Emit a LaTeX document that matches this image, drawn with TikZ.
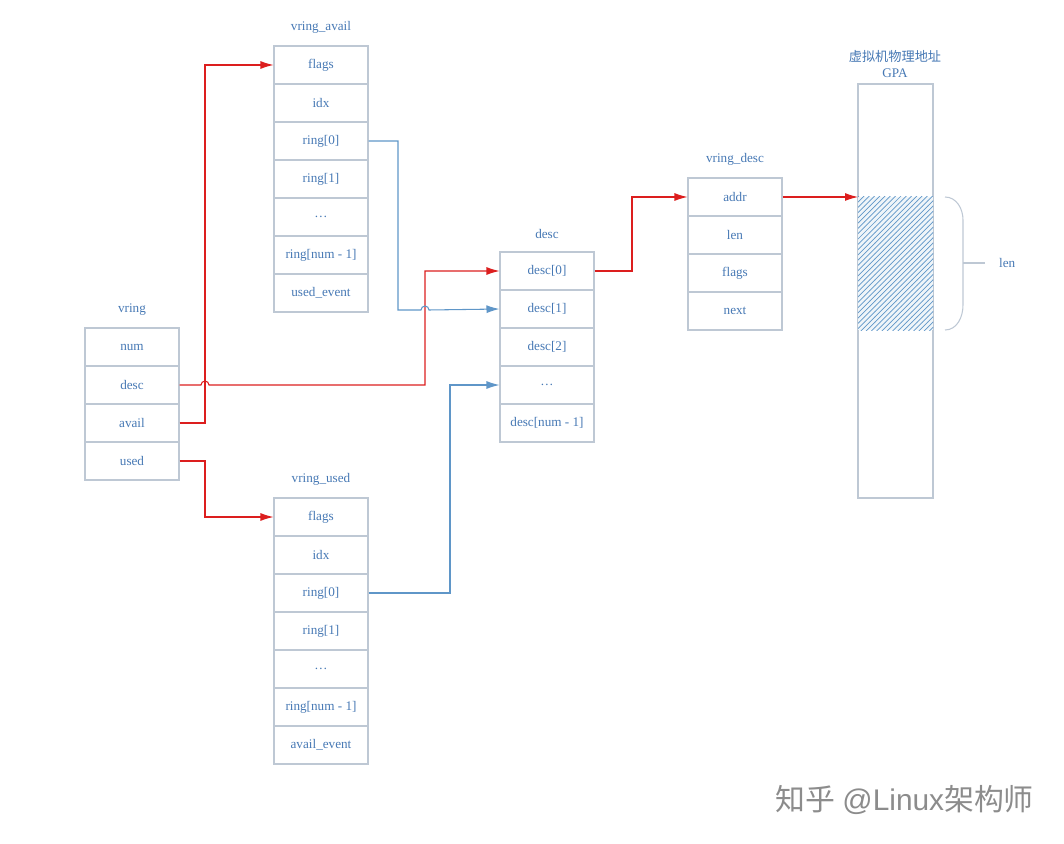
\documentclass[tikz,border=0pt]{standalone}
\usepackage{fontspec}
\setmainfont{Liberation Serif}
\newfontfamily\cjk{Noto Sans CJK SC}
\usetikzlibrary{patterns,calc,arrows.meta}
\definecolor{txtblue}{RGB}{70,120,180}
\definecolor{cellgray}{RGB}{190,200,212}
\definecolor{lnred}{RGB}{220,30,30}
\definecolor{lnblue}{RGB}{95,150,200}
\tikzset{
  cell/.style={draw=cellgray, line width=0.6pt, minimum width=94*0.02cm, minimum height=38*0.02cm, inner sep=0pt, text=txtblue, font=\fontsize{7.5}{9}\selectfont},
  title/.style={text=txtblue, font=\fontsize{7.5}{9}\selectfont},
  red link/.style={color=lnred, line width=0.6pt, -{Latex[length=2.6mm,width=1.6mm]}},
  blue link/.style={color=lnblue, line width=0.6pt, -{Latex[length=2.6mm,width=1.6mm]}},
}
\begin{document}
\begin{tikzpicture}[x=0.02cm, y=-0.02cm]
    \useasboundingbox (0,0) rectangle (1064,844);

    % vring
    \node[title] at (132,310) {vring};
    \foreach \t [count=\i] in {num,desc,avail,used}
        \node[cell] (vr\i) at (132,347+38*\i-38) {\t};

    % vring_avail
    \node[title] at (321,27) {vring\_avail};
    \foreach \t [count=\i] in {flags,idx,ring[0],ring[1],\dots,ring[num - 1],used\_event}
        \node[cell] (av\i) at (321,65+38*\i-38) {\t};

    % vring_used
    \node[title] at (321,479) {vring\_used};
    \foreach \t [count=\i] in {flags,idx,ring[0],ring[1],\dots,ring[num - 1],avail\_event}
        \node[cell] (us\i) at (321,517+38*\i-38) {\t};

    % desc
    \node[title] at (547,234) {desc};
    \foreach \t [count=\i] in {desc[0],desc[1],desc[2],\dots,desc[num - 1]}
        \node[cell] (ds\i) at (547,271+38*\i-38) {\t};

    % vring_desc
    \node[title] at (735,159) {vring\_desc};
    \foreach \t [count=\i] in {addr,len,flags,next}
        \node[cell] (vd\i) at (735,197+38*\i-38) {\t};

    % GPA
    \node[title, align=center] at (895,64) {{\cjk 虚拟机物理地址}\\GPA};
    \node[draw=cellgray, line width=0.6pt, minimum width=75*0.02cm, minimum height=414*0.02cm, inner sep=0pt] (gpa) at (895.5,291) {};
    \fill[lnblue!10] (858,197) rectangle (933,330);
    \fill[pattern=north east lines, pattern color=lnblue] (858,197) rectangle (933,330);
    \coordinate (hatch) at (858,197);
    \draw[cellgray, line width=0.6pt] (945,197) to[out=0,in=90] (963,220) -- (963,305) to[out=-90,in=0] (945,330);
    \draw[cellgray, line width=0.6pt] (963,263) -- (985,263);
    \node[title, anchor=west] (lenlbl) at (993,263) {len};

    % links
    \draw[red link] (vr3.east) -- (205,423) -- (205,65) -- (av1.west);
    \draw[red link] (vr2.east) -- (201,385) arc[start angle=180, end angle=0, radius=0.08cm] -- (425,385) -- (425,271) -- (ds1.west);
    \draw[red link] (vr4.east) -- (205,461) -- (205,517) -- (us1.west);
    \draw[blue link] (av3.east) -- (398,141) -- (398,310) -- (421,310) arc[start angle=180, end angle=0, radius=0.08cm] -- (ds2.west);
    \draw[blue link] (us3.east) -- (450,593) -- (450,385) -- (ds4.west);
    \draw[red link] (ds1.east) -- (632,271) -- (632,197) -- (vd1.west);
    \draw[red link] (vd1.east) -- (hatch);

    % watermark
    \node[text=black!45, font=\fontsize{17}{20}\selectfont, anchor=east] (mark) at (1040,800) {{\cjk 知乎} {\fontspec{Liberation Sans}@Linux}{\cjk 架构师}};
\end{tikzpicture}
\end{document}
